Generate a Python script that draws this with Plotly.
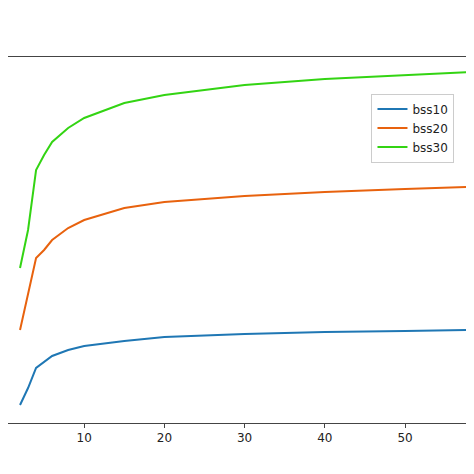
import plotly.graph_objects as go

epochs = [2, 3, 4, 5, 6, 8, 10, 15, 20, 30, 40, 50, 58]
bss10 = [18, 35, 55, 61, 67, 73, 77, 82, 86, 89, 91, 92, 93]
bss20 = [93, 128, 165, 173, 183, 195, 203, 215, 221, 227, 231, 234, 236]
bss30 = [155, 193, 253, 268, 281, 295, 305, 320, 328, 338, 344, 348, 351]

series = [("bss10", bss10, "#1f77b4"), ("bss20", bss20, "#e8620e"), ("bss30", bss30, "#33d413")]

fig = go.Figure()
for name, vals, color in series:
    fig.add_trace(go.Scatter(x=epochs, y=vals, mode="lines", name=name,
                             line=dict(color=color, width=2)))

# the page adds an 8px body margin, so the figure is 8px smaller and shifted
fig.update_layout(
    width=466, height=466,
    margin=dict(l=0, r=0, t=49, b=51),
    plot_bgcolor="white", paper_bgcolor="white",
    font=dict(family="DejaVu Sans", size=12, color="#222"),
    legend=dict(x=0.78, y=0.9, xanchor="left", yanchor="top",
                bgcolor="white", bordercolor="#ccc", borderwidth=1,
                font=dict(size=12)),
    xaxis=dict(range=[0.5, 58.6], tickvals=[0, 10, 20, 30, 40, 50],
               showgrid=False, zeroline=False, showline=True, mirror=True,
               linecolor="#444", linewidth=1, ticks="outside", ticklen=4),
    yaxis=dict(range=[0, 366], showgrid=False, zeroline=False,
               showticklabels=False, showline=False),
)

fig.write_html("out.html")
